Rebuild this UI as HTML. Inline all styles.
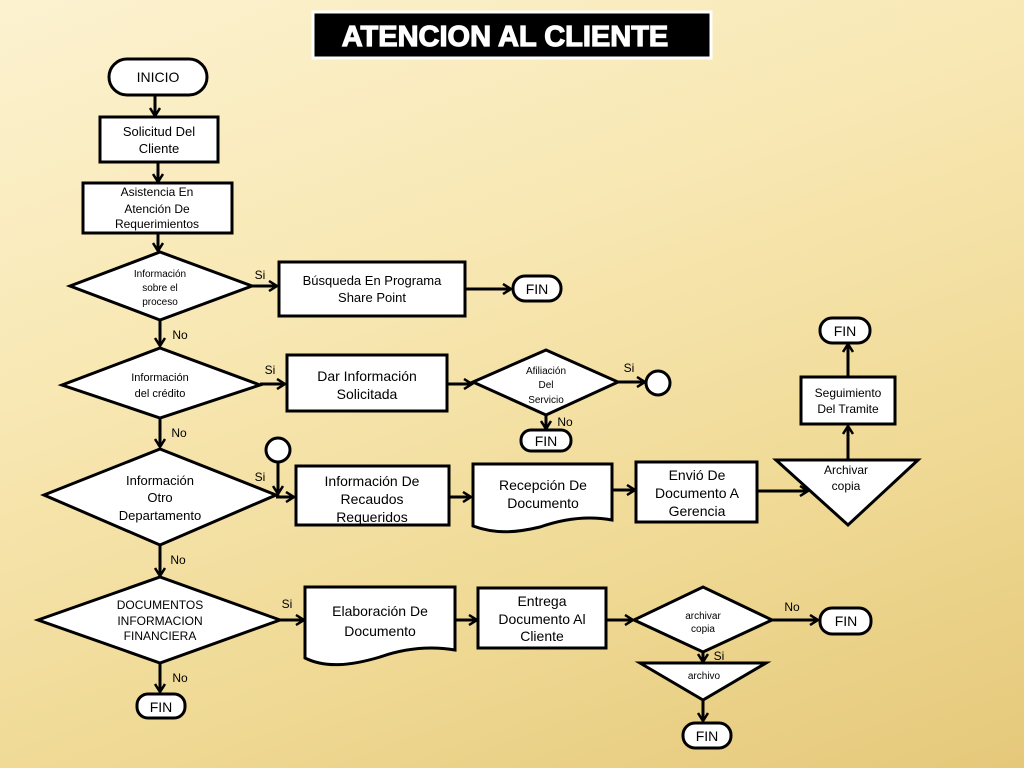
<!DOCTYPE html>
<html><head><meta charset="utf-8"><style>
html,body{margin:0;padding:0;width:1024px;height:768px;overflow:hidden}
body{background:linear-gradient(160deg,#fcf2d0 0%,#f8e8b4 35%,#efd994 70%,#e5c87a 100%)}
svg{position:absolute;left:0;top:0}
text{font-family:"Liberation Sans",sans-serif;fill:#000;text-anchor:middle}
</style></head><body>
<svg width="1024" height="768" viewBox="0 0 1024 768">
<defs>
<marker id="a" markerWidth="12" markerHeight="12" refX="9" refY="6" orient="auto" markerUnits="userSpaceOnUse">
<polyline points="1,1 9,6 1,11" fill="none" stroke="#000" stroke-width="2.5"/>
</marker>
</defs>
<g fill="#fff" stroke="#000" stroke-width="3">
<rect x="313" y="12" width="398" height="46" fill="#000" stroke="#fff" stroke-width="3"/>
<rect x="109" y="59" width="98" height="36" rx="18"/>
<rect x="100" y="117" width="118" height="45"/>
<rect x="83" y="183" width="149" height="50"/>
<polygon points="70,286 160,252 252,286 160,320"/>
<rect x="279" y="262" width="186" height="54"/>
<rect x="513" y="276" width="48" height="25" rx="12"/>
<polygon points="62,385 160,348 260,385 160,418"/>
<rect x="287" y="355" width="160" height="56"/>
<polygon points="473,382 546,350 618,382 546,415"/>
<circle cx="658" cy="383" r="12"/>
<rect x="521" y="430" width="50" height="21" rx="10"/>
<polygon points="44,495 160,449 276,495 160,545"/>
<circle cx="278" cy="450" r="12"/>
<rect x="296" y="466" width="153" height="59"/>
<path d="M473,464 H612 V520 C585,515 560,520 540,527 C515,533 495,534 473,526 Z"/>
<rect x="636" y="462" width="121" height="60"/>
<polygon points="776,460 918,460 848,525"/>
<rect x="801" y="377" width="94" height="47"/>
<rect x="820" y="318" width="50" height="25" rx="12"/>
<polygon points="38,620 160,577 280,620 160,663"/>
<path d="M305,587 H455 V650 C425,645 400,650 380,657 C350,666 325,668 305,658 Z"/>
<rect x="478" y="588" width="128" height="60"/>
<polygon points="634,620 703,587 772,620 703,652"/>
<rect x="820" y="608" width="51" height="26" rx="12"/>
<polygon points="640,663 766,663 703,700"/>
<rect x="683" y="723" width="48" height="25" rx="12"/>
<rect x="137" y="694" width="48" height="24" rx="11"/>
</g>
<g stroke="#000" stroke-width="3" fill="none" marker-end="url(#a)">
<line x1="155" y1="95" x2="155" y2="116"/>
<line x1="158" y1="162" x2="158" y2="182"/>
<line x1="158" y1="233" x2="158" y2="251"/>
<line x1="252" y1="286" x2="277" y2="286"/>
<line x1="465" y1="289" x2="511" y2="289"/>
<line x1="160" y1="320" x2="160" y2="346"/>
<line x1="260" y1="384" x2="285" y2="384"/>
<line x1="447" y1="384" x2="472" y2="384"/>
<line x1="618" y1="382" x2="645" y2="382"/>
<line x1="546" y1="415" x2="546" y2="429"/>
<line x1="160" y1="418" x2="160" y2="447"/>
<line x1="278" y1="462" x2="278" y2="494"/>
<line x1="276" y1="497" x2="294" y2="497"/>
<line x1="449" y1="497" x2="471" y2="497"/>
<line x1="612" y1="490" x2="635" y2="490"/>
<line x1="757" y1="491" x2="808" y2="491"/>
<line x1="848" y1="460" x2="848" y2="426"/>
<line x1="848" y1="377" x2="848" y2="344"/>
<line x1="160" y1="545" x2="160" y2="576"/>
<line x1="280" y1="620" x2="304" y2="620"/>
<line x1="455" y1="620" x2="477" y2="620"/>
<line x1="606" y1="620" x2="633" y2="620"/>
<line x1="772" y1="620" x2="818" y2="620"/>
<line x1="703" y1="652" x2="703" y2="662"/>
<line x1="703" y1="700" x2="703" y2="721"/>
<line x1="160" y1="663" x2="160" y2="692"/>
</g>
<text x="505" y="46" font-size="29" font-weight="bold" style="fill:#fff;stroke:#fff;stroke-width:1.2">ATENCION AL CLIENTE</text>
<g font-size="14">
<text x="158" y="82">INICIO</text>
<text x="159" y="136" font-size="13">Solicitud Del</text>
<text x="159" y="153" font-size="13">Cliente</text>
<text x="157" y="196" font-size="12">Asistencia En</text>
<text x="157" y="213" font-size="12">Atención De</text>
<text x="157" y="228" font-size="12">Requerimientos</text>
<text x="160" y="277" font-size="10">Información</text>
<text x="160" y="291" font-size="10">sobre el</text>
<text x="160" y="305" font-size="10">proceso</text>
<text x="372" y="285" font-size="13">Búsqueda En Programa</text>
<text x="372" y="302" font-size="13">Share Point</text>
<text x="537" y="294">FIN</text>
<text x="160" y="381" font-size="11">Información</text>
<text x="160" y="397" font-size="11">del crédito</text>
<text x="367" y="381">Dar Información</text>
<text x="367" y="399">Solicitada</text>
<text x="546" y="374" font-size="10">Afiliación</text>
<text x="546" y="388" font-size="10">Del</text>
<text x="546" y="403" font-size="10">Servicio</text>
<text x="546" y="446">FIN</text>
<text x="160" y="485" font-size="13">Información</text>
<text x="160" y="502" font-size="13">Otro</text>
<text x="160" y="520" font-size="13">Departamento</text>
<text x="372" y="486">Información De</text>
<text x="372" y="504">Recaudos</text>
<text x="372" y="522">Requeridos</text>
<text x="543" y="490">Recepción De</text>
<text x="543" y="508">Documento</text>
<text x="697" y="480">Envió De</text>
<text x="697" y="498">Documento A</text>
<text x="697" y="516">Gerencia</text>
<text x="846" y="474" font-size="12">Archivar</text>
<text x="846" y="490" font-size="12">copia</text>
<text x="848" y="397" font-size="12">Seguimiento</text>
<text x="848" y="413" font-size="12">Del Tramite</text>
<text x="845" y="336">FIN</text>
<text x="160" y="609" font-size="12">DOCUMENTOS</text>
<text x="160" y="625" font-size="12">INFORMACION</text>
<text x="160" y="640" font-size="12">FINANCIERA</text>
<text x="380" y="616">Elaboración De</text>
<text x="380" y="636">Documento</text>
<text x="542" y="606">Entrega</text>
<text x="542" y="624">Documento Al</text>
<text x="542" y="641">Cliente</text>
<text x="703" y="619" font-size="10">archivar</text>
<text x="703" y="632" font-size="10">copia</text>
<text x="846" y="626">FIN</text>
<text x="704" y="679" font-size="10">archivo</text>
<text x="707" y="741">FIN</text>
<text x="161" y="712">FIN</text>
</g>
<g font-size="12">
<text x="260" y="279">Si</text>
<text x="180" y="339">No</text>
<text x="270" y="374">Si</text>
<text x="629" y="372">Si</text>
<text x="565" y="426">No</text>
<text x="179" y="437">No</text>
<text x="260" y="481">Si</text>
<text x="178" y="564">No</text>
<text x="287" y="608">Si</text>
<text x="792" y="611">No</text>
<text x="719" y="660">Si</text>
<text x="180" y="682">No</text>
</g>
</svg>
</body></html>
